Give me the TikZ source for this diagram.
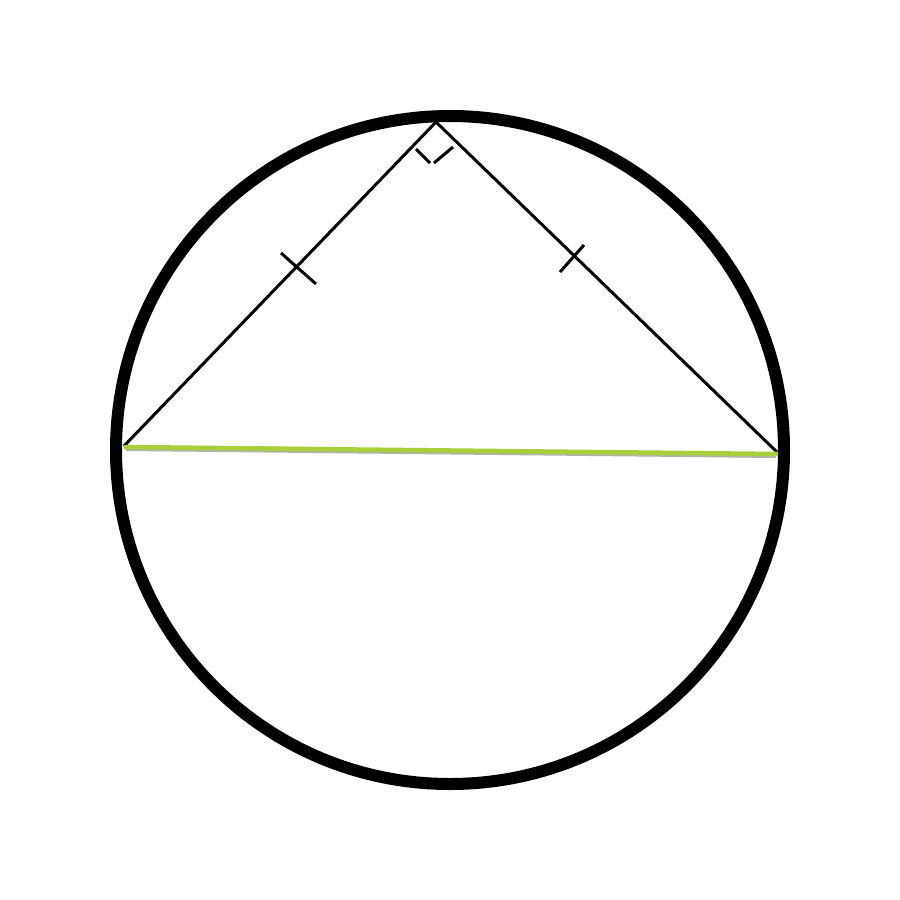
\documentclass[tikz,border=0pt]{standalone}
\usetikzlibrary{calc}
\definecolor{chordgreen}{RGB}{168,206,58}
\definecolor{shadowgray}{RGB}{175,180,165}
\begin{document}
\begin{tikzpicture}[x=1pt,y=-1pt,
  edge/.style={line width=3pt,black},
  tick/.style={line width=3pt,black}]
\useasboundingbox (0,0) rectangle (900,900);
\fill[white] (0,0) rectangle (900,900);
\coordinate (O) at (450,450);
\coordinate (A) at (436,122);
\coordinate (B) at (124,446);
\coordinate (C) at (778,453);
% circle
\draw[line width=12pt] (O) circle[radius=334];
% triangle sides
\draw[edge] (B) -- (A) -- (C);
% chord with shadow
\draw[line width=3pt,shadowgray] ($(B)+(2,3.5)$) -- ($(C)+(-2,3.5)$);
\draw[line width=4.5pt,chordgreen] ($(B)+(0,1)$) -- ($(C)+(0,1)$);
% right angle mark
\draw[tick] (416,149) -- (430,163);
\draw[tick] (434,163) -- (453,147);
% equal-length ticks
\draw[tick] (281,253) -- (316,284);
\draw[tick] (560,272) -- (584,245);
\end{tikzpicture}
\end{document}
